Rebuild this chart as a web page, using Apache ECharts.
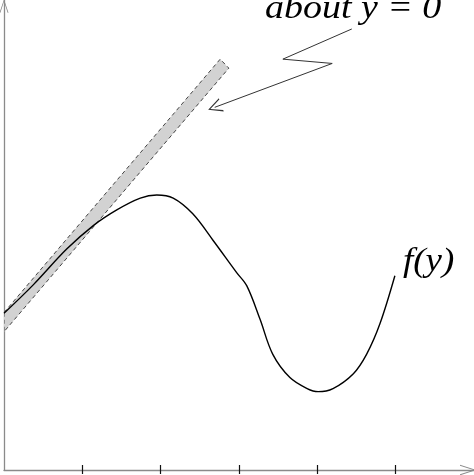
<!DOCTYPE html>
<html>
<head>
<meta charset="utf-8">
<script src="https://cdn.jsdelivr.net/npm/echarts@6/dist/echarts.min.js"></script>
<style>
  html, body { margin: 0; padding: 0; background: #fff; }
  #chart { width: 474px; height: 475px; }
</style>
</head>
<body>
<div id="chart"></div>
<script>
// f(y), in axis units (x 0..6, y 0..6)
const curveX = [0, 0.37, 0.80, 1.14, 1.44, 1.74, 1.95, 2.16, 2.41, 2.67, 2.97, 3.10, 3.27, 3.43, 3.65, 3.87, 4.01, 4.20, 4.46, 4.63, 4.80, 4.99];
const curveY = [2.00, 2.36, 2.82, 3.12, 3.32, 3.47, 3.51, 3.47, 3.27, 2.93, 2.52, 2.35, 1.92, 1.48, 1.18, 1.04, 1.00, 1.04, 1.23, 1.48, 1.87, 2.48];

// linearisation band (corners)
const bandCorners = [[0, 2.01], [2.76, 5.245], [2.87, 5.13], [0, 1.765]];

// pointer from the label to the band
const pointerZigzag = [[4.44, 5.63], [3.56, 5.245], [4.19, 5.19]];
const pointerArrow = [[4.19, 5.19], [2.69, 4.63]];

const xTicks = [1, 2, 3, 4, 5];

const vArrow = 'path://M5,0 L10,15 L9,15 L5,2.5 L1,15 L0,15 Z';
const labelFont = 'italic 33px "Liberation Serif", "Times New Roman", serif';

const chart = echarts.init(document.getElementById('chart'), null, { renderer: 'canvas' });

chart.setOption({
    backgroundColor: '#fff',
    animation: false,
    grid: { left: 4, right: 0, top: 0, bottom: 5, containLabel: false },
    xAxis: [
        {
            type: 'value', min: 0, max: 6,
            axisLine: {
                show: true,
                symbol: ['none', vArrow],
                symbolSize: [11, 16],
                symbolOffset: [0, -6],
                lineStyle: { color: '#8a8a8a', width: 1.3 }
            },
            axisTick: { show: true, customValues: xTicks, length: 4, lineStyle: { color: '#111', width: 1.2 } },
            axisLabel: { show: false },
            splitLine: { show: false }
        },
        {
            type: 'value', min: 0, max: 6, position: 'bottom',
            axisLine: { show: false },
            axisTick: { show: true, inside: true, customValues: xTicks, length: 5, lineStyle: { color: '#111', width: 1.2 } },
            axisLabel: { show: false },
            splitLine: { show: false }
        }
    ],
    yAxis: {
        type: 'value', min: 0, max: 6,
        axisLine: {
            show: true,
            symbol: ['none', vArrow],
            symbolSize: [9, 16],
            symbolOffset: [0, -6],
            lineStyle: { color: '#8a8a8a', width: 1.3 }
        },
        axisTick: { show: false },
        axisLabel: { show: false },
        splitLine: { show: false }
    },
    series: [
        {
            type: 'custom',
            renderItem: (params, api) => ({
                type: 'polygon',
                shape: { points: bandCorners.map(p => api.coord(p)) },
                style: { fill: '#d2d2d2', stroke: '#444', lineWidth: 1, lineDash: [4, 3] }
            }),
            data: [0],
            clip: true,
            z: 1
        },
        {
            type: 'line',
            data: curveX.map((x, i) => [x, curveY[i]]),
            smooth: 0.35,
            symbol: 'none',
            lineStyle: { color: '#000', width: 1.4 },
            z: 3
        },
        {
            type: 'lines',
            coordinateSystem: 'cartesian2d',
            polyline: true,
            data: [{ coords: pointerZigzag }],
            lineStyle: { color: '#333', width: 1, opacity: 1 },
            z: 3
        },
        {
            type: 'lines',
            coordinateSystem: 'cartesian2d',
            data: [{ coords: pointerArrow }],
            symbol: ['none', vArrow],
            symbolSize: [10, 14],
            lineStyle: { color: '#333', width: 1, opacity: 1 },
            z: 3
        }
    ],
    graphic: [
        {
            type: 'text', x: 265, y: -7, scaleX: 1.15,
            style: { text: 'about y = 0', font: labelFont, fill: '#000', verticalAlign: 'top' }
        },
        {
            type: 'text', x: 403, y: 246, scaleX: 1.12,
            style: { text: 'f(y)', font: labelFont, fill: '#000', verticalAlign: 'top' }
        }
    ]
});
</script>
</body>
</html>
